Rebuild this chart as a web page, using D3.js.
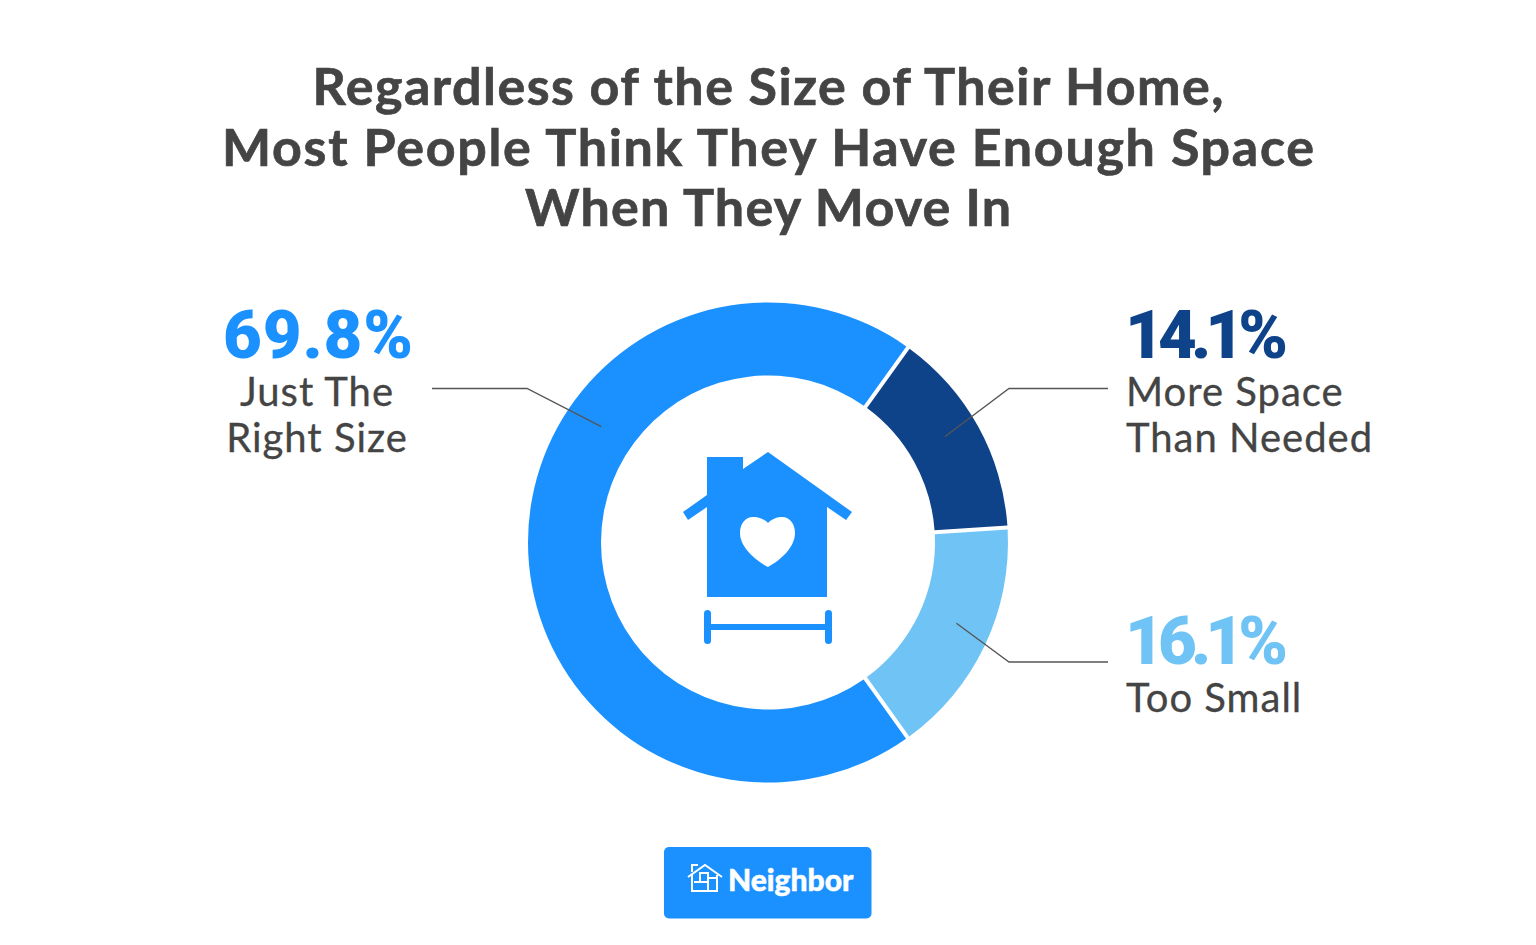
<!DOCTYPE html>
<html>
<head>
<meta charset="utf-8">
<script src="https://d3js.org/d3.v7.min.js"></script>
<style>
  html, body { margin: 0; padding: 0; background: #fff; }
  svg { display: block; }
  text { font-family: Lato, sans-serif; }
</style>
</head>
<body>
<div id="chart"></div>
<script>
// Dados
var categories = ["Just The Right Size", "More Space Than Needed", "Too Small"];
var values = [69.8, 14.1, 16.1];
var valueLabels = ["69.8%", "14.1%", "16.1%"];
var labelLines = [["Just The", "Right Size"], ["More Space", "Than Needed"], ["Too Small"]];
var titleLines = [
  "Regardless of the Size of Their Home,",
  "Most People Think They Have Enough Space",
  "When They Move In"
];
var brandName = "Neighbor";

// Cores
var colors = ["#1a91ff", "#0f4389", "#70c4f5"];
var ink = "#444444";

var w = 1536, h = 945;
var cx = 768, cy = 542.5;
var outer = 240, inner = 167;

var svg = d3.select("#chart").append("svg")
  .attr("width", w)
  .attr("height", h);

// Titulo
var titleWidths = [911, 1092, 486];
svg.selectAll(".title")
  .data(titleLines)
  .enter()
  .append("text")
  .attr("class", "title")
  .attr("x", 768)
  .attr("y", function (d, i) { return 105 + i * 60.5; })
  .attr("text-anchor", "middle")
  .attr("font-size", "52px")
  .attr("font-weight", 700)
  .attr("textLength", function (d, i) { return titleWidths[i]; })
  .attr("lengthAdjust", "spacing")
  .attr("fill", ink)
  .attr("stroke", ink)
  .attr("stroke-width", 0.7)
  .text(function (d) { return d; });

// Donut
var startDeg = -215.6;
var pie = d3.pie().sort(null)
  .startAngle(startDeg * Math.PI / 180)
  .endAngle((startDeg + 360) * Math.PI / 180);
var arc = d3.arc()
  .innerRadius(inner)
  .outerRadius(outer)
  .padRadius(outer)
  .padAngle(4 / outer);

var donut = svg.append("g")
  .attr("transform", "translate(" + cx + "," + cy + ")");

donut.selectAll("path")
  .data(pie(values))
  .enter()
  .append("path")
  .attr("d", arc)
  .attr("fill", function (d, i) { return colors[i]; });

// Linhas de chamada
var leaderLayout = [
  { angle: -55.2, r: 203, knee: [527, 388.5], end: [432, 388.5] },
  { angle: 59.1, r: 206, knee: [1009, 388.5], end: [1108, 388.5] },
  { angle: 113.2, r: 205, knee: [1009, 662], end: [1108, 662] }
];
var leaderLine = d3.line();
svg.selectAll(".leader")
  .data(leaderLayout)
  .enter()
  .append("path")
  .attr("class", "leader")
  .attr("fill", "none")
  .attr("stroke", "#555")
  .attr("stroke-width", 1.3)
  .attr("d", function (d) {
    var p = d3.pointRadial(d.angle * Math.PI / 180, d.r);
    return leaderLine([[cx + p[0], cy + p[1]], d.knee, d.end]);
  });

// Rotulos
var labelLayout = [
  { x: 223, y: 358, anchor: "start", subX: 317, subAnchor: "middle", numWidth: 190 },
  { x: 1125, y: 358, anchor: "start", subX: 1126, subAnchor: "start", numWidth: 163 },
  { x: 1125, y: 664, anchor: "start", subX: 1126, subAnchor: "start", numWidth: 163 }
];
var groups = svg.selectAll(".label")
  .data(labelLayout)
  .enter()
  .append("g")
  .attr("class", "label");

groups.append("text")
  .attr("x", function (d) { return d.x; })
  .attr("y", function (d) { return d.y; })
  .attr("text-anchor", function (d) { return d.anchor; })
  .attr("font-size", "67px")
  .attr("font-weight", 900)
  .attr("textLength", function (d) { return d.numWidth; })
  .attr("lengthAdjust", "spacing")
  .style("font-family", "Roboto, sans-serif")
  .attr("fill", function (d, i) { return colors[i]; })
  .text(function (d, i) { return valueLabels[i]; });

groups.each(function (d, i) {
  d3.select(this).selectAll(".sub")
    .data(labelLines[i])
    .enter()
    .append("text")
    .attr("class", "sub")
    .attr("x", d.subX)
    .attr("y", function (t, j) { return d.y + 48 + j * 45.5; })
    .attr("text-anchor", d.subAnchor)
    .attr("font-size", "40px")
    .attr("letter-spacing", "1px")
    .attr("fill", ink)
    .attr("stroke", ink)
    .attr("stroke-width", 0.3)
    .text(function (t) { return t; });
});

// Icone da casa
var icon = svg.append("g").attr("fill", colors[0]);
icon.append("path")
  .attr("fill-rule", "evenodd")
  .attr("d", "M707 457H743V469L768 452L852 512L846 520L827 507V597H707V507L688 520L683 512L707 495Z" +
    "M768 523C763 518 757 517 753 517C745 517 740 524 740 533C740 547 755 560 768 567" +
    "C781 560 795 547 795 533C795 524 790 517 782 517C778 517 773 518 768 523Z");
icon.append("rect").attr("x", 704).attr("y", 610).attr("width", 7).attr("height", 34).attr("rx", 3.5);
icon.append("rect").attr("x", 825).attr("y", 610).attr("width", 7).attr("height", 34).attr("rx", 3.5);
icon.append("rect").attr("x", 708).attr("y", 624).attr("width", 120).attr("height", 6);

// Logo
svg.append("rect")
  .attr("x", 664).attr("y", 847)
  .attr("width", 207.5).attr("height", 71.5)
  .attr("rx", 5)
  .attr("fill", colors[0]);
svg.append("text")
  .attr("x", 728).attr("y", 891)
  .attr("font-size", "30px")
  .attr("font-weight", 900)
  .attr("fill", "#fff")
  .attr("stroke", "#fff")
  .attr("stroke-width", 0.5)
  .text(brandName);
svg.append("path")
  .attr("fill", "none")
  .attr("stroke", "#fff")
  .attr("stroke-width", 2)
  .attr("d", "M688 877L705 865L722 877M692 875V891H717V875M692 872V865H698" +
    "M700 882V873H708V891M694 882H708M708 878H717");
</script>
</body>
</html>
